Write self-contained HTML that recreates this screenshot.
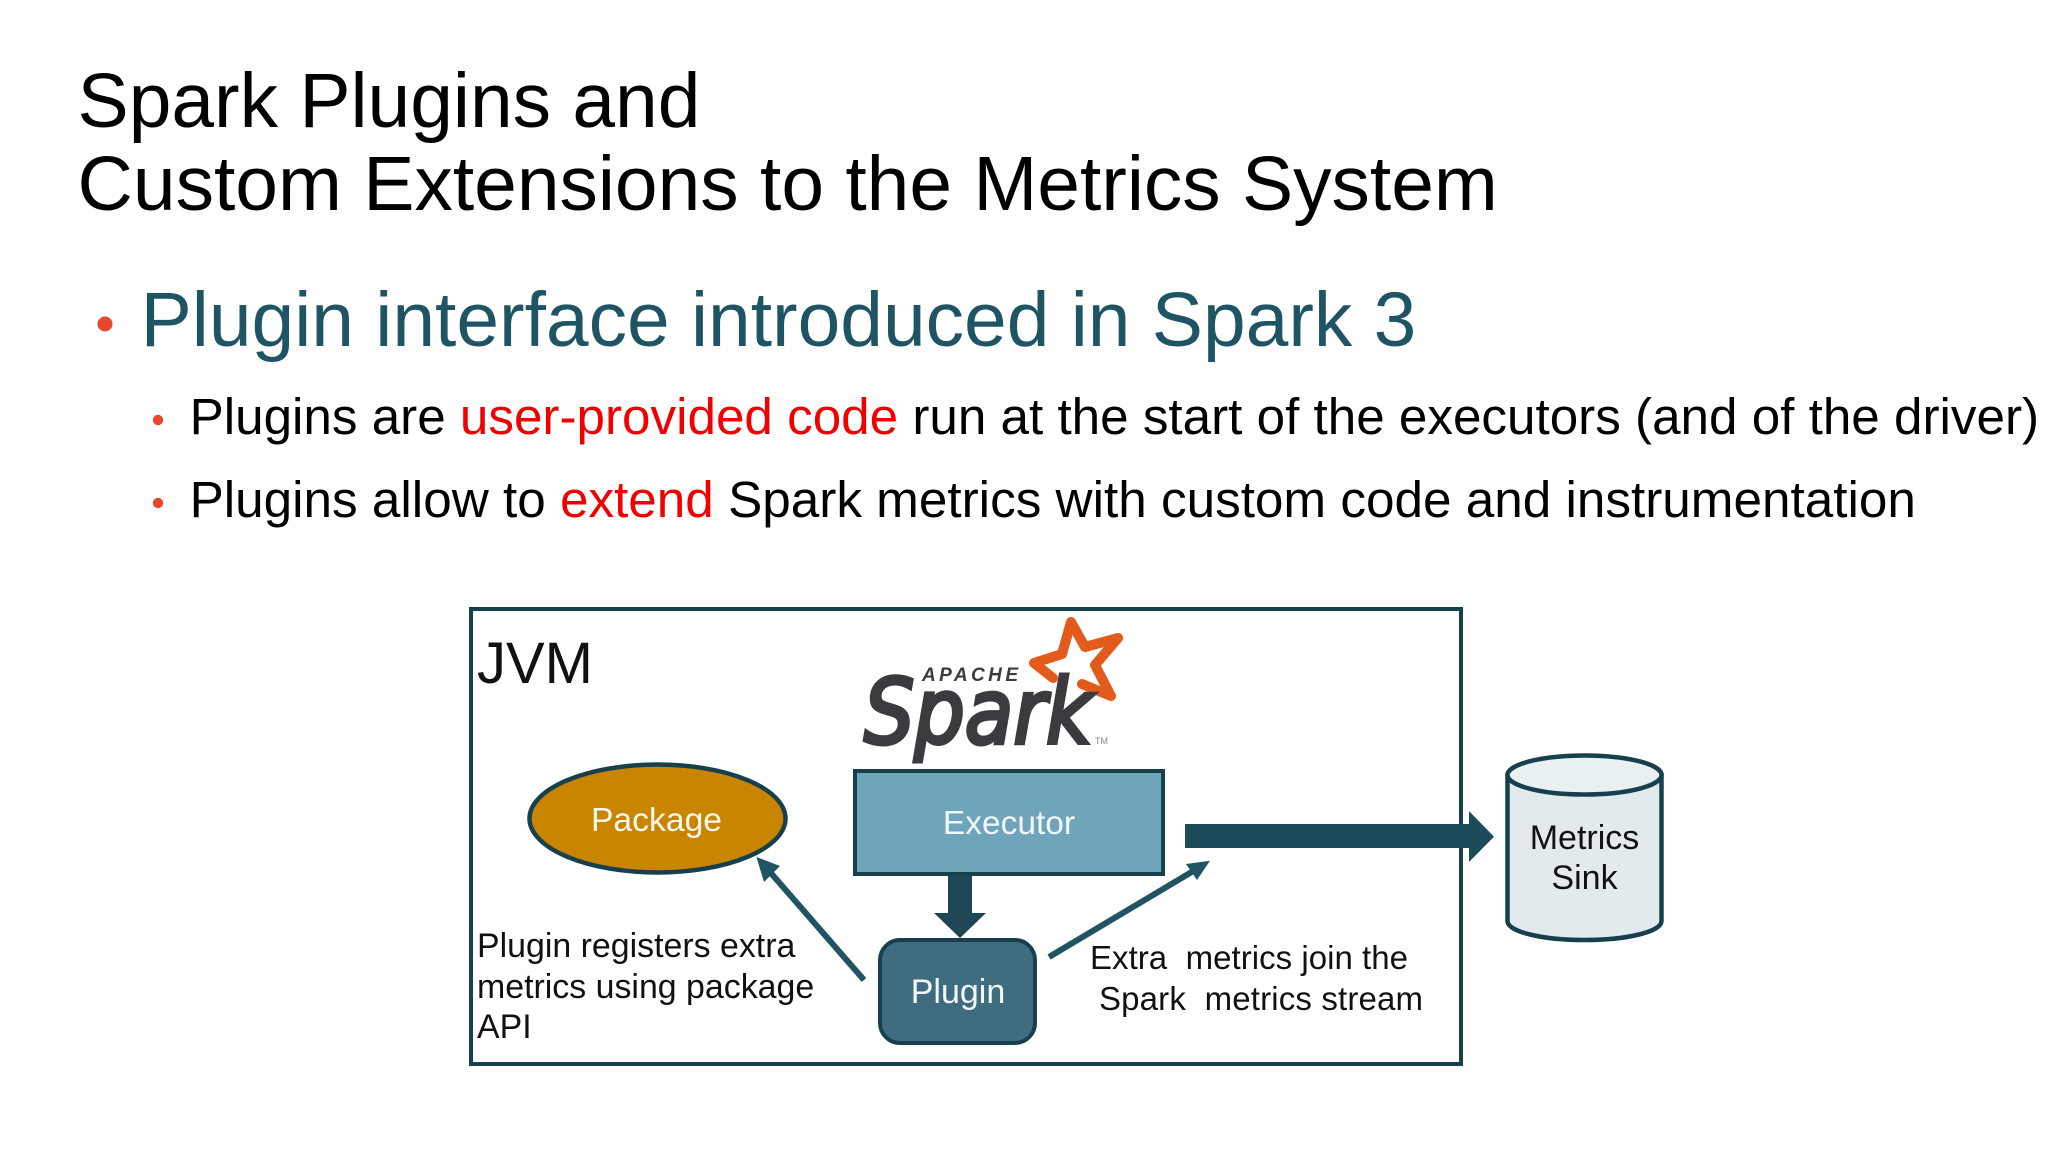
<!DOCTYPE html>
<html><head><meta charset="utf-8"><title>Spark Plugins</title>
<style>
html,body{margin:0;padding:0;background:#fff;width:2048px;height:1152px;overflow:hidden}
svg{display:block;position:absolute;left:0;top:0}
text{font-family:"Liberation Sans",Arial,sans-serif;white-space:pre}
</style></head>
<body>
<svg width="2048" height="1152" viewBox="0 0 2048 1152" xmlns="http://www.w3.org/2000/svg">
<rect width="2048" height="1152" fill="#fff"/>
<!-- Title -->
<text x="77.5" y="127" font-size="76.75" fill="#000">Spark Plugins and</text>
<text x="77.5" y="210" font-size="76.75" fill="#000">Custom Extensions to the Metrics System</text>
<!-- Level 1 -->
<ellipse cx="105" cy="324" rx="7.5" ry="7.5" fill="#e8472c"/>
<text x="140.6" y="346" font-size="76.75" fill="#1f5465">Plugin interface introduced in Spark 3</text>
<!-- Level 2 -->
<circle cx="158" cy="420" r="5.2" fill="#e8472c"/>
<text x="189.6" y="434" font-size="51.2" fill="#000">Plugins are <tspan fill="#f00000">user-provided code</tspan> run at the start of the executors (and of the driver)</text>
<circle cx="158" cy="503" r="5.2" fill="#e8472c"/>
<text x="189.6" y="517" font-size="51.25" fill="#000">Plugins allow to <tspan fill="#f00000">extend</tspan> Spark metrics with custom code and instrumentation</text>

<!-- JVM box -->
<rect x="471" y="609" width="990" height="455" fill="#fff" stroke="#17404c" stroke-width="4"/>
<text x="477" y="683" font-size="58" fill="#111">JVM</text>

<!-- Spark logo -->
<path d="M1053 678 L1034 663 L1062 654 L1071 622 L1085 647 L1118 638 L1095 665 L1111 696 L1082 684" fill="#fff" stroke="#e25a1c" stroke-width="10" stroke-linejoin="round" stroke-linecap="round"/>
<text x="922" y="681" font-size="19" font-weight="bold" font-style="italic" fill="#3c3a3e" textLength="96" lengthAdjust="spacing">APACHE</text>
<text x="864" y="743" font-size="90" font-style="italic" fill="#3c3a3e" stroke="#3c3a3e" stroke-width="4" textLength="228" lengthAdjust="spacingAndGlyphs" style="font-family:'DejaVu Sans','Liberation Sans',sans-serif">Spark</text>
<text x="1095" y="744" font-size="9" fill="#888">TM</text>

<!-- Package -->
<ellipse cx="657.5" cy="818.5" rx="128" ry="54" fill="#c98400" stroke="#17404c" stroke-width="4.5"/>
<text x="656.5" y="831" font-size="33.7" fill="#fdf8ee" text-anchor="middle">Package</text>

<!-- Executor -->
<rect x="855" y="771" width="308" height="103" fill="#6fa5ba" stroke="#17404c" stroke-width="4"/>
<text x="1009" y="834" font-size="33.5" fill="#f2f7f9" text-anchor="middle">Executor</text>

<!-- Arrow Executor to Plugin -->
<polygon points="948,875 972,875 972,913 986,913 960,938 934,913 948,913" fill="#1d4757"/>

<!-- Plugin -->
<rect x="880" y="940" width="155" height="103" rx="20" ry="20" fill="#3f6d7f" stroke="#17404c" stroke-width="4"/>
<text x="958" y="1003" font-size="34" fill="#f2f7f9" text-anchor="middle">Plugin</text>

<!-- Arrow Plugin to Package -->
<line x1="864" y1="980" x2="770" y2="872" stroke="#215463" stroke-width="6"/>
<polygon points="756.4,857 780,866 764,882" fill="#215463"/>

<!-- Arrow Plugin to stream -->
<line x1="1049" y1="957" x2="1195" y2="870" stroke="#215463" stroke-width="6"/>
<polygon points="1210,860.7 1197,880 1186,864" fill="#215463"/>

<!-- Arrow to sink -->
<polygon points="1185,824 1469,824 1469,811 1494,836.7 1469,862 1469,848 1185,848" fill="#1e4b5a"/>

<!-- Left caption -->
<text x="477" y="957" font-size="33.9" fill="#111">Plugin registers extra</text>
<text x="477" y="998" font-size="33.9" fill="#111">metrics using package</text>
<text x="477" y="1038" font-size="33.9" fill="#111">API</text>

<!-- Right caption -->
<text x="1090" y="969" font-size="33" fill="#111" textLength="318" lengthAdjust="spacing">Extra  metrics join the</text>
<text x="1099" y="1010" font-size="33" fill="#111" textLength="324" lengthAdjust="spacing">Spark  metrics stream</text>

<!-- Metrics Sink cylinder -->
<path d="M1507.5 775 L1507.5 921 C1507.5 932 1543 940 1584.5 940 C1626 940 1661.5 932 1661.5 921 L1661.5 775 Z" fill="#e3eaee" stroke="#17404c" stroke-width="4.5"/>
<ellipse cx="1584.5" cy="775" rx="77" ry="19.5" fill="#e9f0f2" stroke="#17404c" stroke-width="4.5"/>
<text x="1584.5" y="849" font-size="34" fill="#111" text-anchor="middle">Metrics</text>
<text x="1584.5" y="889" font-size="34" fill="#111" text-anchor="middle">Sink</text>
</svg>
</body></html>
